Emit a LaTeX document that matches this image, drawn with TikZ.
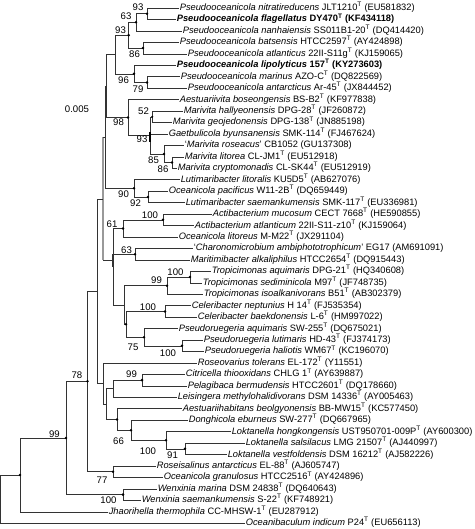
\documentclass[tikz,border=0pt]{standalone}
\usepackage{fontspec}
\setmainfont{Liberation Sans}
\newcommand\typ{\textsuperscript{T}}
\tikzset{
  branch/.style={draw=black!80, line width=0.55pt},
  graybar/.style={draw=black!40, line width=1.4pt},
  nodebar/.style={draw=black, line width=1.6pt},
  dot/.style={fill=black},
  leaf/.style={anchor=west, inner xsep=0.6pt, inner ysep=0pt, text height=6.8pt,
               text depth=1.9pt, font=\fontsize{9.3}{11}\selectfont},
  boot/.style={inner sep=0pt, text height=6.9pt, text depth=0pt,
               font=\fontsize{9.6}{11}\selectfont},
}

\begin{document}
\begin{tikzpicture}[x=1pt, y=-1pt]
  \useasboundingbox (0,0) rectangle (474,529);

  % leaves
  \node[leaf] (l1) at (179,8) {\textit{Pseudooceanicola nitratireducens} JLT1210\typ{} (EU581832)};
  \node[leaf] (l2) at (176,19.45) {\textbf{\textit{Pseudooceanicola flagellatus} DY470\typ{} (KF434118)}};
  \node[leaf] (l3) at (182,30.9) {\textit{Pseudooceanicola nanhaiensis} SS011B1-20\typ{} (DQ414420)};
  \node[leaf] (l4) at (179,42.35) {\textit{Pseudooceanicola batsensis} HTCC2597\typ{} (AY424898)};
  \node[leaf] (l5) at (187,53.8) {\textit{Pseudooceanicola atlanticus} 22II-S11g\typ{} (KJ159065)};
  \node[leaf] (l6) at (176,65.25) {\textbf{\textit{Pseudooceanicola lipolyticus} 157\typ{} (KY273603)}};
  \node[leaf] (l7) at (180,76.7) {\textit{Pseudooceanicola marinus} AZO-C\typ{} (DQ822569)};
  \node[leaf] (l8) at (187,88.15) {\textit{Pseudooceanicola antarcticus} Ar-45\typ{} (JX844452)};
  \node[leaf] (l9) at (179,99.6) {\textit{Aestuariivita boseongensis} BS-B2\typ{} (KF977838)};
  \node[leaf] (l10) at (183,111.05) {\textit{Marivita hallyeonensis} DPG-28\typ{} (JF260872)};
  \node[leaf] (l11) at (172,122.5) {\textit{Marivita geojedonensis} DPG-138\typ{} (JN885198)};
  \node[leaf] (l12) at (168,133.95) {\textit{Gaetbulicola byunsanensis} SMK-114\typ{} (FJ467624)};
  \node[leaf] (l13) at (184,145.4) {`\textit{Marivita roseacus}' CB1052 (GU137308)};
  \node[leaf] (l14) at (184,156.85) {\textit{Marivita litorea} CL-JM1\typ{} (EU512918)};
  \node[leaf] (l15) at (177,168.3) {\textit{Marivita cryptomonadis} CL-SK44\typ{} (EU512919)};
  \node[leaf] (l16) at (180,179.75) {\textit{Lutimaribacter litoralis} KU5D5\typ{} (AB627076)};
  \node[leaf] (l17) at (168,191.2) {\textit{Oceanicola pacificus} W11-2B\typ{} (DQ659449)};
  \node[leaf] (l18) at (185,202.65) {\textit{Lutimaribacter saemankumensis} SMK-117\typ{} (EU336981)};
  \node[leaf] (l19) at (212,214.1) {\textit{Actibacterium mucosum} CECT 7668\typ{} (HE590855)};
  \node[leaf] (l20) at (194,225.55) {\textit{Actibacterium atlanticum} 22II-S11-z10\typ{} (KJ159064)};
  \node[leaf] (l21) at (178,237) {\textit{Oceanicola litoreus} M-M22\typ{} (JX291104)};
  \node[leaf] (l22) at (193,248.45) {`\textit{Charonomicrobium ambiphototrophicum}' EG17 (AM691091)};
  \node[leaf] (l23) at (190,259.9) {\textit{Maritimibacter alkaliphilus} HTCC2654\typ{} (DQ915443)};
  \node[leaf] (l24) at (211,271.35) {\textit{Tropicimonas aquimaris} DPG-21\typ{} (HQ340608)};
  \node[leaf] (l25) at (202,282.8) {\textit{Tropicimonas sediminicola} M97\typ{} (JF748735)};
  \node[leaf] (l26) at (203,294.25) {\textit{Tropicimonas isoalkanivorans} B51\typ{} (AB302379)};
  \node[leaf] (l27) at (191,305.7) {\textit{Celeribacter neptunius} H 14\typ{} (FJ535354)};
  \node[leaf] (l28) at (197,317.15) {\textit{Celeribacter baekdonensis} L-6\typ{} (HM997022)};
  \node[leaf] (l29) at (178,328.6) {\textit{Pseudoruegeria aquimaris} SW-255\typ{} (DQ675021)};
  \node[leaf] (l30) at (203,340.05) {\textit{Pseudoruegeria lutimaris} HD-43\typ{} (FJ374173)};
  \node[leaf] (l31) at (204,351.5) {\textit{Pseudoruegeria haliotis} WM67\typ{} (KC196070)};
  \node[leaf] (l32) at (197,362.95) {\textit{Roseovarius tolerans} EL-172\typ{} (Y11551)};
  \node[leaf] (l33) at (185,374.4) {\textit{Citricella thiooxidans} CHLG 1\typ{} (AY639887)};
  \node[leaf] (l34) at (187,385.85) {\textit{Pelagibaca bermudensis} HTCC2601\typ{} (DQ178660)};
  \node[leaf] (l35) at (177,397.3) {\textit{Leisingera methylohalidivorans} DSM 14336\typ{} (AY005463)};
  \node[leaf] (l36) at (182,408.75) {\textit{Aestuariihabitans beolgyonensis} BB-MW15\typ{} (KC577450)};
  \node[leaf] (l37) at (188,420.2) {\textit{Donghicola eburneus} SW-277\typ{} (DQ667965)};
  \node[leaf] (l38) at (231,431.65) {\textit{Loktanella hongkongensis} UST950701-009P\typ{} (AY600300)};
  \node[leaf] (l39) at (245,443.1) {\textit{Loktanella salsilacus} LMG 21507\typ{} (AJ440997)};
  \node[leaf] (l40) at (227,454.55) {\textit{Loktanella vestfoldensis} DSM 16212\typ{} (AJ582226)};
  \node[leaf] (l41) at (156,466) {\textit{Roseisalinus antarcticus} EL-88\typ{} (AJ605747)};
  \node[leaf] (l42) at (163,477.45) {\textit{Oceanicola granulosus} HTCC2516\typ{} (AY424896)};
  \node[leaf] (l43) at (157,488.9) {\textit{Wenxinia marina} DSM 24838\typ{} (DQ640643)};
  \node[leaf] (l44) at (141,500.35) {\textit{Wenxinia saemankumensis} S-22\typ{} (KF748921)};
  \node[leaf] (l45) at (108,511.8) {\textit{Jhaorihella thermophila} CC-MHSW-1\typ{} (EU287912)};
  \node[leaf] (l46) at (245,523.25) {\textit{Oceanibaculum indicum} P24\typ{} (EU656113)};

  % inner nodes
  \coordinate (n1) at (147,13.73);
  \coordinate (n2) at (136,22.31);
  \coordinate (n3) at (143,48.08);
  \coordinate (n4) at (128.7,35.19);
  \coordinate (n5) at (147,82.43);
  \coordinate (n6) at (134,73.84);
  \coordinate (n7) at (115,54.52);
  \coordinate (n8) at (152.3,116.78);
  \coordinate (n9) at (172,162.58);
  \coordinate (n10) at (164,153.99);
  \coordinate (n11) at (150,135.38);
  \coordinate (n12) at (128,117.49);
  \coordinate (K) at (106,86);
  \coordinate (n13) at (148,196.93);
  \coordinate (n14) at (134,188.34);
  \coordinate (L) at (105,137.2);
  \coordinate (n15) at (163,219.83);
  \coordinate (n16) at (123,228.41);
  \coordinate (n17) at (135,254.18);
  \coordinate (n18) at (190,277.08);
  \coordinate (n19) at (167,285.66);
  \coordinate (n20) at (165,311.43);
  \coordinate (n21) at (182,345.78);
  \coordinate (n22) at (144,337.19);
  \coordinate (n23) at (126,324.31);
  \coordinate (n24) at (124,304.98);
  \coordinate (G) at (113,266.7);
  \coordinate (N) at (112,260.4);
  \coordinate (M) at (103,198.8);
  \coordinate (n25) at (142,380.13);
  \coordinate (n26) at (113,388.71);
  \coordinate (n28) at (185,448.83);
  \coordinate (n27) at (166,440.24);
  \coordinate (n29) at (131,430.22);
  \coordinate (n30) at (117,419.48);
  \coordinate (A) at (106,404.1);
  \coordinate (B) at (103,383.5);
  \coordinate (C) at (97,291.2);
  \coordinate (n31) at (113,471.7);
  \coordinate (n32) at (87.5,381.3);
  \coordinate (n33) at (123,494.6);
  \coordinate (n34) at (66,437.9);
  \coordinate (n35) at (20,474.9);
  \coordinate (R) at (0.5,499.1);

  % branches
  \draw[branch] (n1) |- (l1.west);
  \draw[branch] (n1) |- (l2.west);
  \draw[branch] (n2) |- (n1);
  \draw[branch] (n2) |- (l3.west);
  \draw[branch] (n3) |- (l4.west);
  \draw[branch] (n3) |- (l5.west);
  \draw[branch] (n4) |- (n2);
  \draw[branch] (n4) |- (n3);
  \draw[branch] (n5) |- (l7.west);
  \draw[branch] (n5) |- (l8.west);
  \draw[branch] (n6) |- (l6.west);
  \draw[branch] (n6) |- (n5);
  \draw[branch] (n7) |- (n4);
  \draw[branch] (n7) |- (n6);
  \draw[branch] (n8) |- (l10.west);
  \draw[branch] (n8) |- (l11.west);
  \draw[branch] (n9) |- (l14.west);
  \draw[branch] (n9) |- (l15.west);
  \draw[branch] (n10) |- (l13.west);
  \draw[branch] (n10) |- (n9);
  \draw[branch] (n11) |- (n8);
  \draw[branch] (n11) |- (l12.west);
  \draw[branch] (n11) |- (n10);
  \draw[branch] (n12) |- (l9.west);
  \draw[branch] (n12) |- (n11);
  \draw[branch] (K) |- (n7);
  \draw[branch] (K) |- (n12);
  \draw[branch] (n13) |- (l17.west);
  \draw[branch] (n13) |- (l18.west);
  \draw[branch] (n14) |- (l16.west);
  \draw[branch] (n14) |- (n13);
  \draw[branch] (L) |- (K);
  \draw[branch] (L) |- (n14);
  \draw[branch] (n15) |- (l19.west);
  \draw[branch] (n15) |- (l20.west);
  \draw[branch] (n16) |- (n15);
  \draw[branch] (n16) |- (l21.west);
  \draw[branch] (n17) |- (l22.west);
  \draw[branch] (n17) |- (l23.west);
  \draw[branch] (n18) |- (l24.west);
  \draw[branch] (n18) |- (l25.west);
  \draw[branch] (n19) |- (n18);
  \draw[branch] (n19) |- (l26.west);
  \draw[branch] (n20) |- (l27.west);
  \draw[branch] (n20) |- (l28.west);
  \draw[branch] (n21) |- (l30.west);
  \draw[branch] (n21) |- (l31.west);
  \draw[branch] (n22) |- (l29.west);
  \draw[branch] (n22) |- (n21);
  \draw[branch] (n23) |- (n20);
  \draw[branch] (n23) |- (n22);
  \draw[branch] (n24) |- (n19);
  \draw[branch] (n24) |- (n23);
  \draw[branch] (G) |- (n16);
  \draw[branch] (G) |- (n24);
  \draw[branch] (N) |- (n17);
  \draw[branch] (N) |- (G);
  \draw[graybar] (M |- L) -- (M |- N);
  \draw[branch] (M |- L) -- (L);
  \draw[branch] (M |- N) -- (N);
  \draw[branch] (n25) |- (l33.west);
  \draw[branch] (n25) |- (l34.west);
  \draw[branch] (n26) |- (n25);
  \draw[branch] (n26) |- (l35.west);
  \draw[branch] (n28) |- (l39.west);
  \draw[branch] (n28) |- (l40.west);
  \draw[branch] (n27) |- (l38.west);
  \draw[branch] (n27) |- (n28);
  \draw[branch] (n29) |- (l37.west);
  \draw[branch] (n29) |- (n27);
  \draw[branch] (n30) |- (l36.west);
  \draw[branch] (n30) |- (n29);
  \draw[branch] (A) |- (n26);
  \draw[branch] (A) |- (n30);
  \draw[branch] (B) |- (l32.west);
  \draw[branch] (B) |- (A);
  \draw[branch] (C) |- (M);
  \draw[branch] (C) |- (B);
  \draw[branch] (n31) |- (l41.west);
  \draw[branch] (n31) |- (l42.west);
  \draw[branch] (n32) |- (C);
  \draw[branch] (n32) |- (n31);
  \draw[branch] (n33) |- (l43.west);
  \draw[branch] (n33) |- (l44.west);
  \draw[branch] (n34) |- (n32);
  \draw[branch] (n34) |- (n33);
  \draw[branch] (n35) |- (n34);
  \draw[branch] (n35) |- (l45.west);
  \draw[branch] (R) |- (n35);
  \draw[branch] (R) |- (l46.west);

  % node marks
  \fill[dot] (n1) circle (1.4pt);
  \fill[dot] (n2) circle (1.4pt);
  \fill[dot] (n3) circle (1.4pt);
  \fill[dot] (n4) circle (1.4pt);
  \fill[dot] (n5) circle (1.4pt);
  \fill[dot] (n6) circle (1.4pt);
  \fill[dot] (n8) circle (1.1pt);
  \fill[dot] (n9) circle (1.4pt);
  \fill[dot] (n10) circle (1.4pt);
  \draw[nodebar] (n11) ++(0,-3) -- ++(0,10);
  \fill[dot] (n12) circle (1.4pt);
  \fill[dot] (n13) circle (1.4pt);
  \fill[dot] (n14) circle (1.4pt);
  \fill[dot] (n15) circle (1.4pt);
  \fill[dot] (n16) circle (1.4pt);
  \fill[dot] (n17) circle (1.4pt);
  \fill[dot] (n18) circle (1.4pt);
  \fill[dot] (n19) circle (1.4pt);
  \fill[dot] (n20) circle (1.4pt);
  \fill[dot] (n21) circle (1.4pt);
  \fill[dot] (n22) circle (1.4pt);
  \fill[dot] (n23) circle (1.4pt);
  \fill[dot] (n25) circle (1.4pt);
  \fill[dot] (n27) circle (1.4pt);
  \fill[dot] (n28) circle (1.4pt);
  \fill[dot] (n29) circle (1.4pt);
  \fill[dot] (n30) circle (1.4pt);
  \fill[dot] (n31) circle (1.4pt);
  \fill[dot] (n32) circle (1.4pt);
  \fill[dot] (n33) circle (1.4pt);
  \fill[dot] (n34) circle (1.4pt);
  \fill[dot] (n35) circle (1.4pt);

  % bootstrap values
  \node[boot] (b1) at (138,7.5) {93};
  \node[boot] (b2) at (126,16.5) {63};
  \node[boot] (b4) at (120.5,30) {93};
  \node[boot] (b3) at (134.5,54.5) {86};
  \node[boot] (b6) at (123.5,80) {96};
  \node[boot] (b5) at (138,89) {79};
  \node[boot] (b12) at (118.5,122) {98};
  \node[boot] (b8) at (143.5,111) {52};
  \node[boot] (b11) at (142,139) {93};
  \node[boot] (b10) at (153.5,160) {85};
  \node[boot] (b9) at (163,169.5) {86};
  \node[boot] (b14) at (123.5,194) {90};
  \node[boot] (b13) at (135.5,203) {92};
  \node[boot] (b15) at (150,215) {100};
  \node[boot] (b16) at (112,224.5) {61};
  \node[boot] (b17) at (126.5,250) {63};
  \node[boot] (b18) at (175.5,272.5) {100};
  \node[boot] (b19) at (156.5,280) {99};
  \node[boot] (b20) at (148,307) {100};
  \node[boot] (b22) at (133,347) {75};
  \node[boot] (b21) at (168,353) {100};
  \node[boot] (b25) at (131.5,374) {99};
  \node[boot] (b32) at (77,375) {78};
  \node[boot] (b29) at (118.5,441) {66};
  \node[boot] (b27) at (148,451) {100};
  \node[boot] (b28) at (172.5,455.3) {91};
  \node[boot] (b34) at (54.5,434.5) {99};
  \node[boot] (b31) at (102,480.5) {77};
  \node[boot] (b33) at (108.5,500.5) {100};

  % scale
  \node[boot] (scale) at (77,109) {0.005};
\end{tikzpicture}
\end{document}
